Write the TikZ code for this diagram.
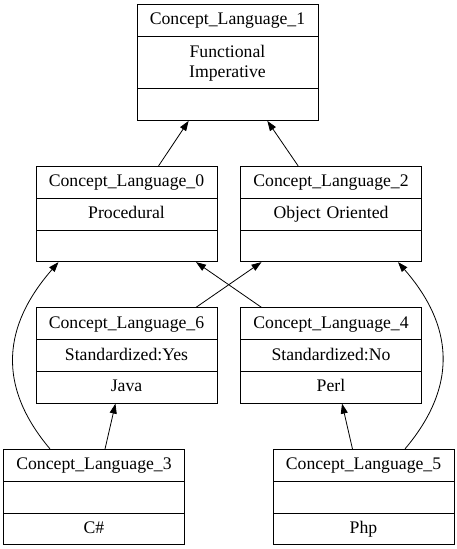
\documentclass[tikz,border=0pt]{standalone}
\usepackage{fontspec}
\setmainfont{Liberation Serif}
\usetikzlibrary{shapes.multipart,arrows.meta}
\newcommand{\rowstrut}{\rule[-7pt]{0pt}{23pt}}
\begin{document}
\begin{tikzpicture}[x=1pt, y=1pt, node distance=141.5pt, line width=0.8pt,
    concept/.style={draw, rectangle split, rectangle split parts=3,
      text width=173pt, align=center, inner xsep=4pt, inner ysep=4pt,
      font=\fontsize{17.7pt}{20pt}\selectfont},
    >={Triangle[length=10pt,width=7pt]}]
        \useasboundingbox (0,0) rectangle (457,-549);
        \node [concept] (1) at (227.5,-62.5) {\rowstrut Concept\_Language\_1
          \nodepart{two} \rule{0pt}{17pt}Functional\\Imperative\rule[-6.5pt]{0pt}{0pt}
          \nodepart{three} \rowstrut};
        \node [concept, below of=1, xshift=-101pt, yshift=-10pt] (0) {\rowstrut Concept\_Language\_0
          \nodepart{two} \rowstrut Procedural
          \nodepart{three} \rowstrut};
        \node [concept, right of=0, xshift=63pt] (2) {\rowstrut Concept\_Language\_2
          \nodepart{two} \rowstrut Object Oriented
          \nodepart{three} \rowstrut};
        \node [concept, below of=0] (6) {\rowstrut Concept\_Language\_6
          \nodepart{two} \rowstrut Standardized:Yes
          \nodepart{three} \rowstrut Java};
        \node [concept, below of=2] (4) {\rowstrut Concept\_Language\_4
          \nodepart{two} \rowstrut Standardized:No
          \nodepart{three} \rowstrut Perl};
        \node [concept, below of=6, xshift=-32.5pt] (3) {\rowstrut Concept\_Language\_3
          \nodepart{two} \rowstrut
          \nodepart{three} \rowstrut C\#};
        \node [concept, below of=4, xshift=32.5pt] (5) {\rowstrut Concept\_Language\_5
          \nodepart{two} \rowstrut
          \nodepart{three} \rowstrut Php};

        \draw[->] (0) -- (1);
        \draw[->] (2) -- (1);
        \draw[->] (6) -- (2);
        \draw[->] (4) -- (0);
        \draw[->] (3) -- (6);
        \draw[->] (5) -- (4);
        \draw[->] ([xshift=-44pt]3.north) .. controls +(-60,71) and +(-48,-55) .. ([xshift=-68pt]0.south);
        \draw[->] ([xshift=41.5pt]5.north) .. controls +(60,71) and +(48,-55) .. ([xshift=67pt]2.south);
      \end{tikzpicture}
\end{document}
